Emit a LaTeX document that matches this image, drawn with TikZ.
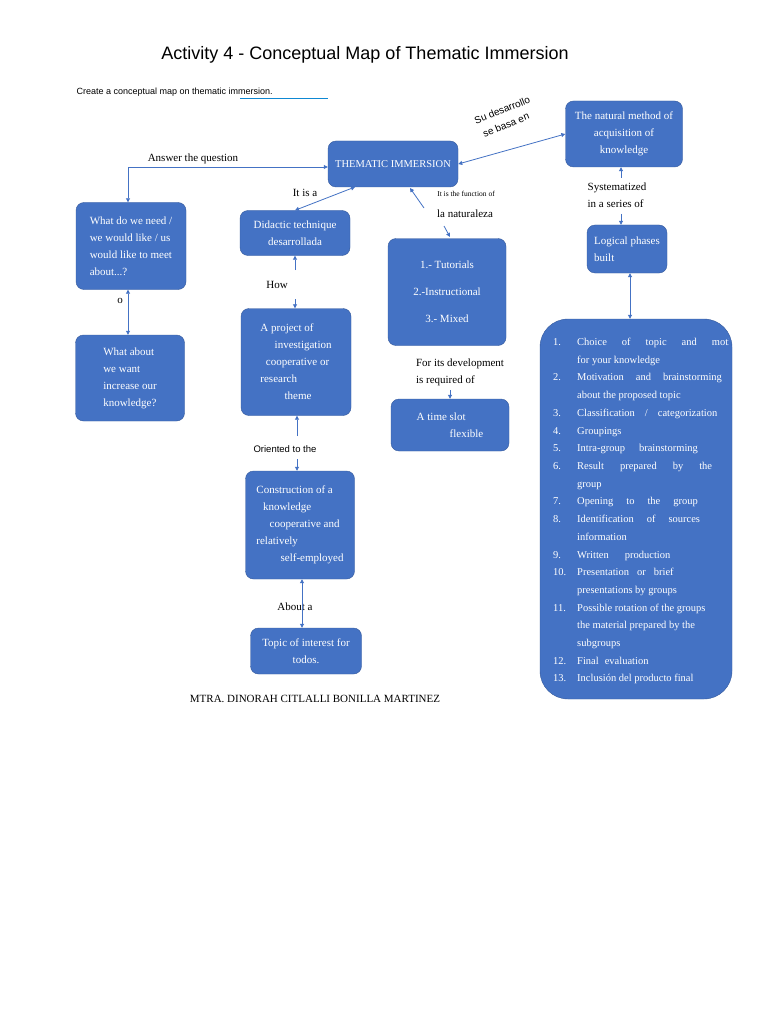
\documentclass[tikz,border=0pt]{standalone}
\usepackage{fontspec}
\setmainfont{Liberation Serif}
\newfontfamily\titlefont{Liberation Sans}
\usetikzlibrary{arrows.meta}
\definecolor{bx}{HTML}{4472C4}
\begin{document}
\begin{tikzpicture}[x=1pt,y=-1pt,
 box/.style={draw=bx!80!black,fill=bx,rounded corners=8pt,text=white,font=\fontsize{11}{17}\selectfont,align=center,inner sep=3pt},
 lbl/.style={font=\fontsize{11}{17}\selectfont,align=left,inner sep=1pt},
 ar/.style={draw=bx,line width=0.8pt,-{Triangle[length=4pt,width=4pt]}},
 dar/.style={draw=bx,line width=0.8pt,{Triangle[length=4pt,width=4pt]}-{Triangle[length=4pt,width=4pt]}}]
\useasboundingbox (0,0) rectangle (768,1024);
\fill[white] (0,0) rectangle (768,1024);
\node[font=\titlefont\fontsize{18}{22}\selectfont] (title) at (365,55) {Activity 4 - Conceptual Map of Thematic Immersion};
\node[font=\titlefont\fontsize{9}{11}\selectfont,anchor=west] (sub) at (73,92) {Create a conceptual map on thematic immersion.};
\draw[cyan!70!blue,line width=0.6pt] (240,98) -- (328,98);
% boxes
\node[box,minimum width=130pt,minimum height=46pt,font=\fontsize{10.5}{13}\selectfont] (ti) at (393,164) {THEMATIC IMMERSION};
\node[box,minimum width=117pt,minimum height=66pt] (nat) at (624,134) {The natural method of\\acquisition of\\knowledge};
\node[box,minimum width=110pt,minimum height=87pt,align=left] (q1) at (131,246) {What do we need /\\we would like / us\\would like to meet\\about...?};
\node[box,minimum width=109pt,minimum height=86pt,align=left] (q2) at (130,378) {What about\\we want\\increase our\\knowledge?};
\node[box,minimum width=110pt,minimum height=45pt] (did) at (295,233) {Didactic technique\\desarrollada};
\node[box,minimum width=110pt,minimum height=107pt,align=left] (proj) at (296,362) {A project of\\\hspace{1.3em}investigation\\\hspace{0.5em}cooperative or\\research\\\hspace{2.2em}theme};
\node[box,minimum width=109pt,minimum height=108pt,align=left] (cons) at (300,525) {Construction of a\\\hspace{0.6em}knowledge\\\hspace{1.2em}cooperative and\\relatively\\\hspace{2.2em}self-employed};
\node[box,minimum width=111pt,minimum height=46pt] (top) at (306,651) {Topic of interest for\\todos.};
\node[box,minimum width=118pt,minimum height=107pt,font=\fontsize{11}{27}\selectfont] (tut) at (447,292) {1.- Tutorials\\2.-Instructional\\3.- Mixed};
\node[box,minimum width=118pt,minimum height=52pt,align=left] (slot) at (450,425) {A time slot\\\hspace{3em}flexible};
\node[box,minimum width=80pt,minimum height=48pt,align=left] (log) at (627,249) {Logical phases\\built};
\node[box,minimum width=192pt,minimum height=380pt,rounded corners=28pt] (list) at (636,509) {};
\begin{scope}
\clip (540,319) rectangle (728,699);
\node[anchor=north west,text=white,font=\fontsize{10.5}{17.7}\selectfont,inner sep=0pt,align=left] (lt) at (553,338) {%
\makebox[24pt][l]{1.}Choice\hspace{15pt}of\hspace{15pt}topic\hspace{15pt}and\hspace{15pt}motivation\\
\makebox[24pt][l]{}for your knowledge\\
\makebox[24pt][l]{2.}Motivation\hspace{12pt}and\hspace{12pt}brainstorming\\
\makebox[24pt][l]{}about the proposed topic\\
\makebox[24pt][l]{3.}Classification\hspace{10pt}/\hspace{10pt}categorization\\
\makebox[24pt][l]{4.}Groupings\\
\makebox[24pt][l]{5.}Intra-group\hspace{14pt}brainstorming\\
\makebox[24pt][l]{6.}Result\hspace{16pt}prepared\hspace{16pt}by\hspace{16pt}the\\
\makebox[24pt][l]{}group\\
\makebox[24pt][l]{7.}Opening\hspace{13pt}to\hspace{13pt}the\hspace{13pt}group\\
\makebox[24pt][l]{8.}Identification\hspace{13pt}of\hspace{13pt}sources\\
\makebox[24pt][l]{}information\\
\makebox[24pt][l]{9.}Written\hspace{16pt}production\\
\makebox[24pt][l]{10.}Presentation\hspace{8pt}or\hspace{8pt}brief\\
\makebox[24pt][l]{}presentations by groups\\
\makebox[24pt][l]{11.}Possible rotation of the groups\\
\makebox[24pt][l]{}the material prepared by the\\
\makebox[24pt][l]{}subgroups\\
\makebox[24pt][l]{12.}Final\hspace{6pt}evaluation\\
\makebox[24pt][l]{13.}Inclusión del producto final};
\end{scope}
% labels
\node[lbl] (l1) at (193,159) {Answer the question};
\node[lbl] (l2) at (305,193) {It is a};
\node[lbl,font=\fontsize{7.5}{9}\selectfont] (l3) at (466,194) {It is the function of};
\node[lbl] (l4) at (465,214) {la naturaleza};
\node[lbl,font=\titlefont\fontsize{10}{15}\selectfont,rotate=22,align=left] (l5) at (505,117) {Su desarrollo\\\hspace{0.3em}se basa en};
\node[lbl] (l6) at (617,195) {Systematized\\in a series of};
\node[lbl] (l7) at (277,285) {How};
\node[lbl] (l8) at (120,301) {o};
\node[lbl,font=\titlefont\fontsize{9.5}{11}\selectfont] (l9) at (285,449) {Oriented to the};
\node[lbl] (l10) at (460,372) {For its development\\is required of};
\node[lbl] (l11) at (295,607) {About a};
\node[font=\fontsize{11}{13}\selectfont] (foot) at (315,699) {MTRA. DINORAH CITLALLI BONILLA MARTINEZ};
% connectors
\coordinate (c1) at (128,167);
\draw[dar] (q1.north -| c1) -- (c1) -- (ti.west |- c1);
\draw[dar] (q1.south -| c1) -- (q2.north -| c1);
\draw[dar] (did.north) -- (355,187);
\draw[dar] (ti.east) -- (nat.west);
\draw[ar] (424,208) -- (410,188);
\draw[ar] (444,226) -- (450,237);
\draw[ar] (621,178) -- (nat.south -| 621,0);
\draw[ar] (621,214) -- (log.north -| 621,0);
\draw[dar] (log.south -| 630,0) -- (list.north -| 630,0);
\draw[ar] (295,270) -- (did.south);
\draw[ar] (295,299) -- (proj.north -| 295,0);
\draw[ar] (297,436) -- (proj.south -| 297,0);
\draw[ar] (297,459) -- (cons.north -| 297,0);
\draw[ar] (450,390) -- (slot.north);
\draw[dar] (cons.south -| 302,0) -- (top.north -| 302,0);
\end{tikzpicture}
\end{document}
